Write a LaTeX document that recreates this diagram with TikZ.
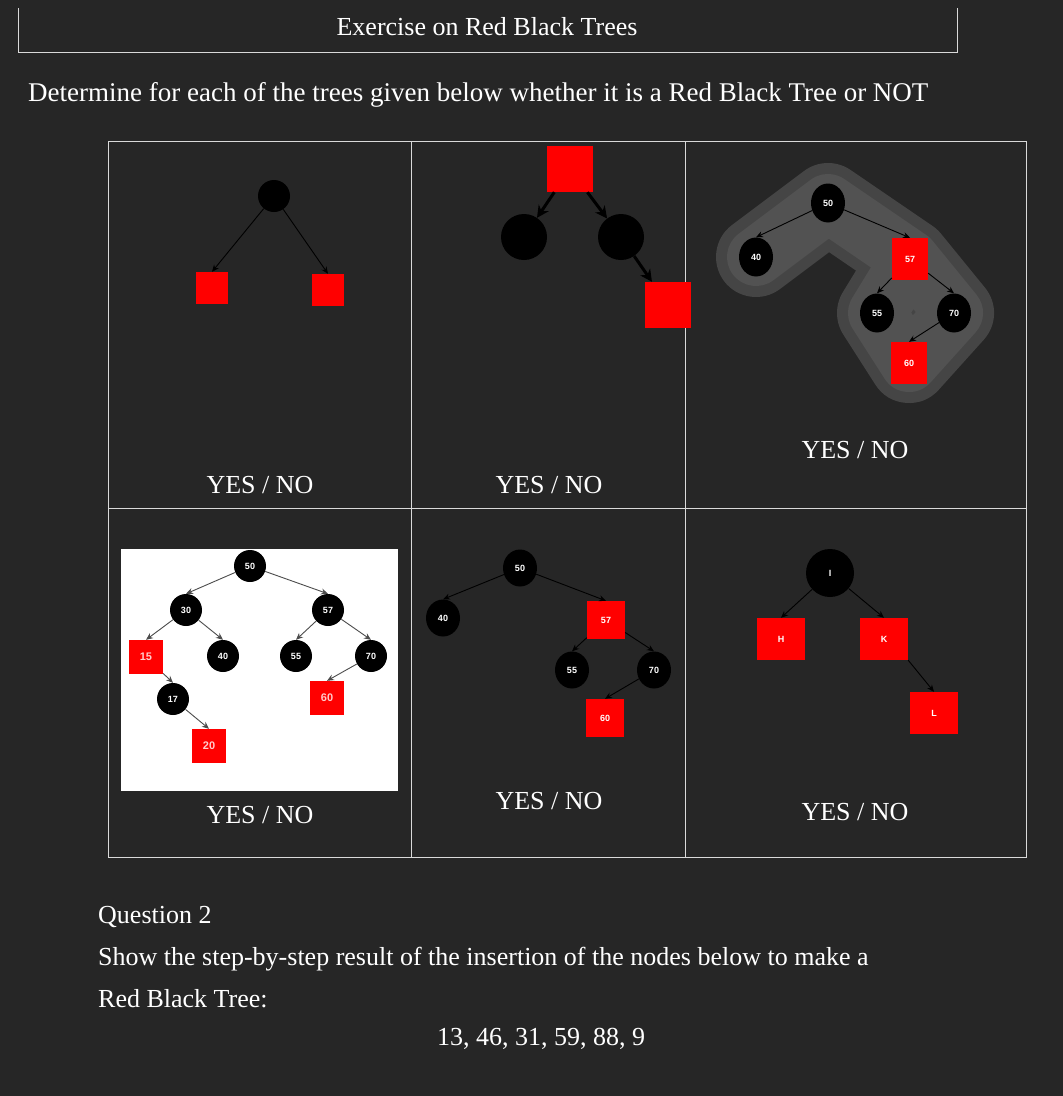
\documentclass[tikz,border=0pt]{standalone}
\usepackage{fontspec}
\setmainfont{Liberation Serif}
\newfontfamily\lblfont{Liberation Sans}
\newfontfamily\monof{DejaVu Sans Mono}
\usetikzlibrary{arrows.meta,shapes.geometric}
\definecolor{bg}{HTML}{262626}
\definecolor{rr}{HTML}{FF0000}
\definecolor{glow}{HTML}{5A5A5A}
\begin{document}
\begin{tikzpicture}[x=1pt,y=-1pt,
  txt/.style={text=white,font=\fontsize{26}{30}\selectfont,inner sep=0},
  bn/.style={circle,fill=black,minimum size=#1,inner sep=0,text=white,font=\lblfont\bfseries\fontsize{9}{10}\selectfont},
  bn/.default=32,
  be/.style={ellipse,fill=black,minimum width=34,minimum height=39,inner sep=0,text=white,font=\lblfont\bfseries\fontsize{9}{10}\selectfont},
  rn/.style={rectangle,fill=rr,minimum size=#1,inner sep=0,text=white,font=\lblfont\bfseries\fontsize{9}{10}\selectfont},
  rn/.default=32,
  edge/.style={draw=black,-{Stealth[length=7pt,width=6pt]},line width=0.9pt},
  gridl/.style={draw=white!85!black,line width=0.8pt}]
\fill[bg] (0,0) rectangle (1063,1096);
\useasboundingbox (0,0) rectangle (1063,1096);
% title
\draw[gridl] (18,8) -- (18,52) -- (957,52) -- (957,8);
\node[txt] (title) at (487,27) {Exercise on Red Black Trees};
\node[txt,anchor=west,font=\fontsize{27}{30}\selectfont] (intro) at (28,95) {Determine for each of the trees given below whether it is a Red Black Tree or NOT};
% grid
\draw[gridl] (108,141) rectangle (1026,857);
\draw[gridl] (411,141) -- (411,857) (685,141) -- (685,857) (108,508) -- (1026,508);
% panel 1
\node[bn=32] (a1) at (274,196) {};
\node[rn=32] (a2) at (212,288) {};
\node[rn=32] (a3) at (328,290) {};
\draw[edge] (a1) -- (a2.north);
\draw[edge] (a1) -- (a3.north);
\node[txt] (y1) at (260,485) {YES / NO};
% panel 2
\node[rn=46] (b1) at (570,169) {};
\node[bn=46] (b2) at (524,237) {};
\node[bn=46] (b3) at (621,237) {};
\node[rn=46] (b4) at (668,305) {};
\draw[edge,line width=3pt,-{Stealth[length=12pt,width=12pt]}] (b1) -- (b2);
\draw[edge,line width=3pt,-{Stealth[length=12pt,width=12pt]}] (b1) -- (b3);
\draw[edge,line width=3pt,-{Stealth[length=12pt,width=12pt]}] (b3) -- (b4);
\node[txt] (y2) at (549,485) {YES / NO};
% panel 3 glow
\begin{scope}[line cap=round,line join=round]
\draw[glow!60!bg,line width=80pt] (828,203) -- (756,257) (828,203) -- (910,259) -- (877,313) (910,259) -- (954,313) -- (909,363) -- (877,313);
\draw[glow!85!bg,line width=58pt] (828,203) -- (756,257) (828,203) -- (910,259) -- (877,313) (910,259) -- (954,313) -- (909,363) -- (877,313);
\end{scope}
\node[be] (c50) at (828,203) {50};
\node[be] (c40) at (756,257) {40};
\node[rn,minimum width=36,minimum height=42] (c57) at (910,259) {57};
\node[be] (c55) at (877,313) {55};
\node[be] (c70) at (954,313) {70};
\node[rn,minimum width=36,minimum height=42] (c60) at (909,363) {60};
\draw[edge] (c50) -- (c40.north);
\draw[edge] (c50) -- (c57.north);
\draw[edge] (c57) -- (c55.north);
\draw[edge] (c57) -- (c70.north);
\draw[edge] (c70) -- (c60.north);
\node[txt] (y3) at (855,450) {YES / NO};
% panel 4
\fill[white] (121,549) rectangle (398,791);
\begin{scope}[every node/.append style={font=\lblfont\bfseries\fontsize{8}{9}\selectfont}]
\node[bn=32] (d50) at (250,566) {50};
\node[bn=32] (d30) at (186,610) {30};
\node[bn=32] (d57) at (328,610) {57};
\node[rn=34,text=white!80!red] (d15) at (146,657) {\fontsize{11}{12}\selectfont 15};
\node[bn=32] (d40) at (223,656) {40};
\node[bn=32] (d55) at (296,656) {55};
\node[bn=32] (d70) at (371,656) {70};
\node[bn=32] (d17) at (173,699) {17};
\node[rn=34,text=white!80!red] (d60) at (327,698) {\fontsize{11}{12}\selectfont 60};
\node[rn=34,text=white!80!red] (d20) at (209,746) {\fontsize{11}{12}\selectfont 20};
\end{scope}
\begin{scope}[every path/.append style={line width=1.2pt}]
\draw[edge,draw=black!70] (d50) -- (d30.north);
\draw[edge,draw=black!70] (d50) -- (d57.north);
\draw[edge,draw=black!70] (d30) -- (d15.north);
\draw[edge,draw=black!70] (d30) -- (d40.north);
\draw[edge,draw=black!70] (d57) -- (d55.north);
\draw[edge,draw=black!70] (d57) -- (d70.north);
\draw[edge,draw=black!70] (d70) -- (d60.north);
\draw[edge,draw=black!70] (d15) -- (d17.north);
\draw[edge,draw=black!70] (d17) -- (d20.north);
\end{scope}
\node[txt] (y4) at (260,815) {YES / NO};
% panel 5
\node[be,minimum height=37] (e50) at (520,568) {50};
\node[be,minimum height=37] (e40) at (443,618) {40};
\node[rn,minimum width=38,minimum height=38] (e57) at (606,620) {57};
\node[be,minimum height=37] (e55) at (572,670) {55};
\node[be,minimum height=37] (e70) at (654,670) {70};
\node[rn,minimum width=38,minimum height=38] (e60) at (605,718) {60};
\draw[edge] (e50) -- (e40.north);
\draw[edge] (e50) -- (e57.north);
\draw[edge] (e57) -- (e55.north);
\draw[edge] (e57) -- (e70.north);
\draw[edge] (e70) -- (e60.north);
\node[txt] (y5) at (549,801) {YES / NO};
% panel 6
\begin{scope}[every node/.append style={font=\monof\fontsize{24}{26}\selectfont}]
\node[bn=48] (fI) at (830,573) {I};
\node[rn,minimum width=48,minimum height=42] (fH) at (781,639) {H};
\node[rn,minimum width=48,minimum height=42] (fK) at (884,639) {K};
\node[rn,minimum width=48,minimum height=42] (fL) at (934,713) {L};
\end{scope}
\draw[edge] (fI) -- (fH.north);
\draw[edge] (fI) -- (fK.north);
\draw[edge] (fK.south east) -- (fL.north);
\node[txt] (y6) at (855,812) {YES / NO};
% question 2
\node[txt,anchor=west] (q1) at (98,917) {Question 2};
\node[txt,anchor=west] (q2) at (98,959) {Show the step-by-step result of the insertion of the nodes below to make a};
\node[txt,anchor=west] (q3) at (98,999) {Red Black Tree:};
\node[txt] (q4) at (541,1039) {13, 46, 31, 59, 88, 9};
\end{tikzpicture}
\end{document}
